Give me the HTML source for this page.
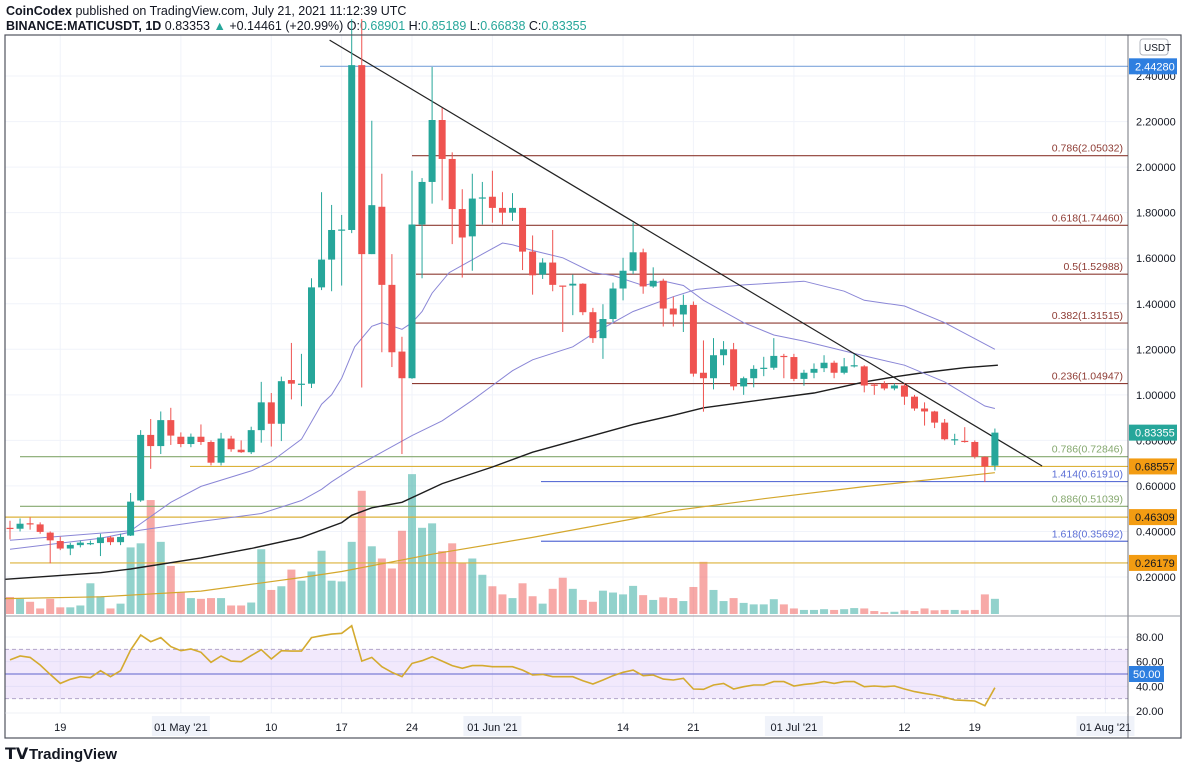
<!DOCTYPE html>
<html><head><meta charset="utf-8"><style>
body{margin:0;background:#fff;font-family:"Liberation Sans",sans-serif;}
svg{display:block}
text{font-family:"Liberation Sans",sans-serif;}
</style></head><body>
<svg id="c" width="1186" height="768" viewBox="0 0 1186 768" xmlns="http://www.w3.org/2000/svg">
<text x="6" y="15" font-size="12.5" fill="#131722"><tspan font-weight="bold">CoinCodex</tspan> published on TradingView.com, July 21, 2021 11:12:39 UTC</text>
<text x="6" y="30" font-size="12.5" fill="#131722"><tspan font-weight="bold">BINANCE:MATICUSDT, 1D</tspan> 0.83353 <tspan fill="#26a69a">▲</tspan> +0.14461 (+20.99%) O:<tspan fill="#26a69a">0.68901</tspan> H:<tspan fill="#26a69a">0.85189</tspan> L:<tspan fill="#26a69a">0.66838</tspan> C:<tspan fill="#26a69a">0.83355</tspan></text>
<g id="grid"></g>
<g id="vol"></g>
<g id="levels"></g>
<g id="mas"></g>
<g id="candles"></g>
<g id="rsi"></g>
<g id="axes"></g>
<rect x="5" y="35" width="1176" height="703" fill="none" stroke="#50535e" stroke-width="1.2"/>
<line x1="1128" y1="35" x2="1128" y2="738" stroke="#50535e" stroke-width="0.8"/>
<line x1="5" y1="616" x2="1181" y2="616" stroke="#9598a1" stroke-width="1"/>
<line x1="5" y1="713" x2="1128" y2="713" stroke="#e0e3eb" stroke-width="0.6"/>
<g>
<text x="5" y="759" font-size="16" font-weight="bold" fill="#131722">𝗧𝗩</text>
<text x="29" y="759" font-size="15" font-weight="bold" fill="#131722">TradingView</text>
</g>
</svg>
<script>
const openP=[.416,.412,.436,.431,.395,.358,.325,.34,.347,.349,.374,.353,.382,.536,.824,.775,.889,.816,.784,.816,.793,.702,.808,.759,.748,.845,.967,.873,1.065,1.049,1.049,1.472,1.594,1.724,1.724,2.448,1.618,1.826,1.483,1.190,1.073,1.748,1.935,2.207,2.036,1.816,1.696,1.867,1.870,1.821,1.800,1.821,1.629,1.528,1.581,1.480,1.480,1.488,1.363,1.249,1.333,1.467,1.545,1.626,1.476,1.501,1.379,1.353,1.395,1.097,1.073,1.174,1.200,1.037,1.073,1.117,1.119,1.171,1.166,1.070,1.097,1.117,1.141,1.097,1.130,1.125,1.045,1.049,1.028,1.041,.992,.940,.927,.878,.805,.798,.793,.728,.689];
const closeP=[.414,.434,.434,.398,.361,.325,.341,.351,.349,.374,.353,.376,.531,.824,.775,.889,.821,.784,.816,.793,.702,.808,.761,.748,.845,.967,.873,1.06,1.049,1.049,1.472,1.594,1.724,1.726,2.448,1.618,1.833,1.483,1.187,1.073,1.748,1.935,2.207,2.036,1.816,1.691,1.862,1.867,1.821,1.800,1.821,1.629,1.525,1.581,1.483,1.478,1.488,1.363,1.249,1.333,1.467,1.545,1.626,1.476,1.501,1.379,1.353,1.395,1.093,1.073,1.174,1.200,1.037,1.073,1.114,1.119,1.171,1.169,1.070,1.097,1.114,1.141,1.097,1.125,1.130,1.041,1.044,1.028,1.041,.992,.940,.927,.878,.805,.805,.797,.728,.685,.834];
const highP=[.447,.457,.462,.44,.40,.377,.35,.36,.36,.39,.38,.39,.569,.845,.894,.927,.943,.835,.83,.87,.80,.833,.82,.80,.86,1.057,1.008,1.08,1.228,1.18,1.512,1.89,1.834,1.79,2.65,2.65,2.204,1.971,1.618,1.255,1.984,1.952,2.44,2.26,2.065,1.903,1.971,1.935,1.984,1.89,1.886,1.821,1.70,1.60,1.724,1.48,1.528,1.49,1.382,1.398,1.493,1.602,1.756,1.642,1.56,1.51,1.431,1.44,1.41,1.239,1.249,1.236,1.228,1.08,1.13,1.167,1.249,1.18,1.18,1.11,1.138,1.174,1.15,1.162,1.179,1.13,1.05,1.06,1.05,1.05,1.0,.967,.93,.894,.829,.858,.80,.73,.852];
const lowP=[.365,.400,.408,.39,.26,.318,.296,.33,.34,.292,.34,.34,.38,.53,.675,.74,.78,.77,.77,.78,.69,.69,.75,.745,.74,.79,.773,.797,.98,.95,1.03,1.46,1.455,1.48,1.71,1.032,1.618,1.187,1.122,.74,1.07,1.512,1.84,1.854,1.662,1.515,1.545,1.748,1.756,1.748,1.764,1.548,1.44,1.509,1.455,1.276,1.35,1.35,1.228,1.158,1.32,1.415,1.53,1.444,1.47,1.30,1.30,1.276,1.08,.926,1.024,1.13,1.02,1.0,1.033,1.082,1.11,1.073,1.06,1.04,1.073,1.10,1.073,1.09,1.12,1.011,1.0,1.02,1.02,.956,.93,.865,.854,.80,.78,.79,.72,.617,.668];
const volume=[4.6,4.1,3.3,1.5,4.1,1.8,1.8,2.3,8.3,4.8,1.5,2.8,18,19.1,30.8,19.5,13,5.8,4.3,4.1,4.3,4.3,2.3,2.3,3.1,17.5,6.5,7.5,12,9,11.5,17.1,9,8.8,19.5,33.3,18.3,15,12.3,22.5,37.8,23.3,24.5,17,19.1,13.8,15,10.6,7.5,5.3,4.3,8.3,4.8,2.8,6.8,9.8,6.8,3.8,3.3,6.3,5.8,5.3,7.6,5.1,3.8,4.5,4.3,3.5,7.3,14.1,6.5,3.5,4.3,3,2.6,2.6,4,2.6,1.5,1.1,1.1,1.3,1.1,1.3,1.6,1.5,.8,.5,.6,1,.8,1.5,1,1.1,1.1,1,1.1,5.3,4.1];
const rsiVals=[61.4,64.6,63.5,57.3,49.7,42.4,45.7,47.8,47,52.7,47.8,52.7,69.5,81.6,76.2,79.5,72.2,68.9,70.3,67.6,59.5,64.6,60.5,60,64.9,69.7,62.2,68.9,68.6,68.6,79.5,81.1,82.4,83,89.2,60.5,63.5,55.9,51.4,47.8,58.6,60.8,64,60.5,56.8,54.6,56.8,56.8,55.9,55.9,55.9,53.2,49.2,49.7,47.8,47.8,47.8,44.6,41.9,45.1,48.6,51.4,53.2,48.6,49.2,45.9,45.1,46.5,37.8,37.6,41.1,42.4,37.8,39.7,41.1,41.1,43.8,43.8,40.3,41.6,42.4,43.8,42.4,43.8,43.8,39.7,40.3,39.7,40.3,37.8,35.7,34.3,33,31.1,28.9,28.6,28.1,24.3,38.9];
const maFastIdx=[0,12,16,19,24,26,29,31,32,33,34.3,36,37,39,40,41,42,43.7,45,47,49,50,52,55,58,60,63,65,67,69,73,76,79,85,89,93,97,98];
const maFastVal=[.361,.403,.528,.598,.666,.707,.805,.959,1.0,1.073,1.211,1.301,1.317,1.288,1.317,1.366,1.447,1.537,1.569,1.618,1.667,1.659,1.634,1.602,1.537,1.524,1.48,1.50,1.48,1.415,1.317,1.263,1.236,1.171,1.13,1.057,.951,.94];
const maSlowIdx=[0,9,13,19,25,29,31,32,34,37,40,43,46,48,50,52,56,58,62,66,68.3,73,79,83,85,89,93,98];
const maSlowVal=[.322,.37,.406,.444,.479,.536,.585,.618,.675,.748,.821,.886,.976,1.041,1.106,1.154,1.211,1.268,1.366,1.431,1.463,1.483,1.499,1.455,1.415,1.39,1.317,1.20];
const ma200Idx=[-0.5,9,12,19,24,29,33,34,36,39,43,48,52,58,62,66,69,75,80,85,88.3,91,95,98.3];
const ma200Val=[.19,.219,.235,.284,.325,.374,.439,.471,.504,.528,.61,.683,.748,.821,.87,.91,.943,.979,1.008,1.057,1.081,1.098,1.119,1.13];
const maGoldIdx=[-0.5,9,19,29,33,42,52,62,66,75,85,98];
const maGoldVal=[.105,.113,.138,.198,.224,.30,.374,.455,.491,.544,.597,.658];
const trendIdx=[31.8,102.7];
const trendVal=[2.558,.6875];
const priceTicks=[0.2,0.4,0.6,0.8,1.0,1.2,1.4,1.6,1.8,2.0,2.2,2.4];
const rsiTicks=[20,40,60,80];
const dateIdx=[5,17,26,33,40,48,61,68,78,89,96,109];
const dateLabels=["19","01 May '21","10","17","24","01 Jun '21","14","21","01 Jul '21","12","19","01 Aug '21"];
const levelVals=[2.4428,2.05032,1.7446,1.52988,1.31515,1.04947,0.72846,0.68557,0.6191,0.51039,0.46309,0.35692,0.26179];
const levelText=["","0.786(2.05032)","0.618(1.74460)","0.5(1.52988)","0.382(1.31515)","0.236(1.04947)","0.786(0.72846)","","1.414(0.61910)","0.886(0.51039)","","1.618(0.35692)",""];
const levelStart=[320,412,412,416,412,412,20,190,541,20,5,541,10];
const levelColor=["#7fa6dc","#8e3b33","#8e3b33","#8e3b33","#8e3b33","#8e3b33","#85a86e","#dcb23a","#5c6fd6","#85a86e","#dcb23a","#5c6fd6","#dcb23a"];
const levelTag=[1,0,0,0,0,0,0,1,0,0,1,0,1];
const tagText=["2.44280","","","","","","","0.68557","","","0.46309","","0.26179"];
const tagBg=["#2e7fe0","","","","","","","#f39c12","","","#f39c12","","#f39c12"];

const NS="http://www.w3.org/2000/svg";
const X=i=>10+i*10.05;
const Y=p=>577-(p-0.2)*227.7;
const RY=v=>674-(v-50)*1.233;
function mk(tag,attrs,parent){const e=document.createElementNS(NS,tag);for(const k in attrs)e.setAttribute(k,attrs[k]);document.getElementById(parent).appendChild(e);return e;}

// grid
priceTicks.forEach(p=>{const l=mk('line',{x1:5,x2:1128,y1:Y(p),y2:Y(p),stroke:'#f0f3fa','stroke-width':1},'grid');

});
dateIdx.forEach(i=>{const l=mk('line',{x1:X(i),x2:X(i),y1:35,y2:713,stroke:'#f0f3fa','stroke-width':1},'grid');

});
[80,60,40].forEach(v=>{const l=mk('line',{x1:5,x2:1128,y1:RY(v),y2:RY(v),stroke:'#f0f3fa'},'grid');

});

// volume
volume.forEach((v,i)=>{const up=closeP[i]>=openP[i];const h=v*3.7;
const r=mk('rect',{x:X(i)-4,y:614-h,width:8,height:h,fill:up?'rgba(38,166,154,0.5)':'rgba(239,83,80,0.5)'},'vol');

});

// levels
levelVals.forEach((p,k)=>{const y=Y(p);
const l=mk('line',{x1:levelStart[k],x2:1128,y1:y,y2:y,stroke:levelColor[k],'stroke-width':1.2},'levels');


if(levelText[k]){const t=mk('text',{x:1123,y:y-4,'text-anchor':'end','font-size':10.5,fill:levelColor[k]},'levels');t.textContent=levelText[k];

}
});

// moving averages
function poly(idx,val,color,w,name){const pts=idx.map((i,k)=>X(i).toFixed(1)+','+Y(val[k]).toFixed(1)).join(' ');
const p=mk('polyline',{points:pts,fill:'none',stroke:color,'stroke-width':w},'mas');

}
poly(maGoldIdx,maGoldVal,'#d4a72c',1.2,'ma-gold-line');
poly(ma200Idx,ma200Val,'#1e1e1e',1.4,'ma-200-line');
poly(maSlowIdx,maSlowVal,'#8a86d6',1,'ma-slow-line');
poly(maFastIdx,maFastVal,'#8a86d6',1,'ma-fast-line');
poly(trendIdx,trendVal,'#222',1.2,'descending-trendline');

// candles
openP.forEach((o,i)=>{const c=closeP[i];const up=c>=o;const col=up?'#26a69a':'#ef5350';
const w=mk('line',{x1:X(i),x2:X(i),y1:Y(highP[i]),y2:Y(lowP[i]),stroke:col,'stroke-width':1},'candles');


const top=Y(Math.max(o,c));const h=Math.max(1.2,Y(Math.min(o,c))-top);
const b=mk('rect',{x:X(i)-3.5,y:top,width:7,height:h,fill:col},'candles');

});

// RSI
const band=mk('rect',{x:5,y:RY(70),width:1123,height:RY(30)-RY(70),fill:'rgba(149,76,233,0.12)'},'rsi');


[70,30].forEach(v=>{const l=mk('line',{x1:5,x2:1128,y1:RY(v),y2:RY(v),stroke:'#b3a5c9','stroke-dasharray':'4 3'},'rsi');

});
const mid=mk('line',{x1:5,x2:1128,y1:RY(50),y2:RY(50),stroke:'#7c7ed6','stroke-width':1.2},'rsi');


const rl=mk('polyline',{points:rsiVals.map((v,i)=>X(i).toFixed(1)+','+RY(v).toFixed(1)).join(' '),fill:'none',stroke:'#d4aa2f','stroke-width':1.6},'rsi');



// axes labels
priceTicks.forEach(p=>{const t=mk('text',{x:1136,y:Y(p)+4,'font-size':11,fill:'#131722'},'axes');t.textContent=p.toFixed(5);

});
rsiTicks.forEach(v=>{const t=mk('text',{x:1136,y:RY(v)+4,'font-size':11,fill:'#131722'},'axes');t.textContent=v.toFixed(2);

});
const rt=mk('rect',{x:1129,y:RY(50)-8,width:35,height:16,fill:'#2e7fe0'},'axes');


const rtt=mk('text',{x:1133,y:RY(50)+4,'font-size':11,fill:'#fff'},'axes');rtt.textContent='50.00';


levelVals.forEach((p,k)=>{if(!levelTag[k])return;
const r=mk('rect',{x:1129,y:Y(p)-8,width:48,height:16,fill:tagBg[k]},'axes');


const t=mk('text',{x:1135,y:Y(p)+4,'font-size':11,fill:k===0?'#fff':'#131722'},'axes');t.textContent=tagText[k];

});
const last=closeP[closeP.length-1];
const lr=mk('rect',{x:1129,y:Y(last)-8,width:48,height:16,fill:'#26a69a'},'axes');


const lt=mk('text',{x:1135,y:Y(last)+4,'font-size':11,fill:'#fff'},'axes');lt.textContent='0.83355';


const ub=mk('rect',{x:1140,y:39,width:28,height:16,rx:3,fill:'#fff',stroke:'#b2b5be'},'axes');


const ut=mk('text',{x:1144,y:51,'font-size':10,fill:'#131722'},'axes');ut.textContent='USDT';


dateIdx.forEach((i,k)=>{const lab=dateLabels[k];const isM=lab.length>3;
if(isM){const r=mk('rect',{x:X(i)-29,y:716,width:58,height:20,fill:'#f0f3fa'},'axes');

}
const t=mk('text',{x:X(i),y:731,'font-size':11,'text-anchor':'middle',fill:'#131722'},'axes');t.textContent=lab;

});
</script>
</body></html>
